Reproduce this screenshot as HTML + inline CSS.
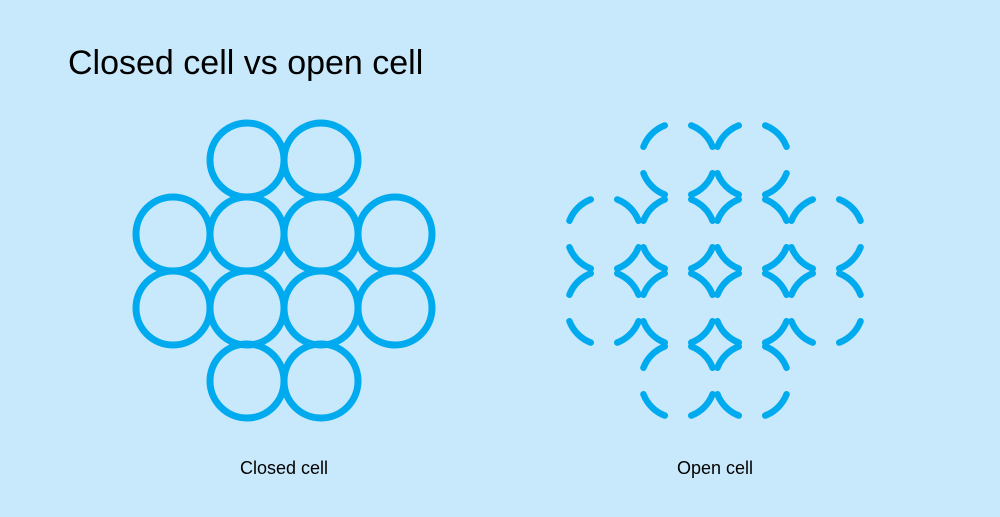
<!DOCTYPE html>
<html><head><style>
body{margin:0;width:1000px;height:512px;background:#c8e9fb;overflow:hidden;font-family:"Liberation Sans",sans-serif}
</style></head><body>
<svg width="1000" height="512" xmlns="http://www.w3.org/2000/svg">
<rect width="1000" height="512" fill="#c8e9fb"/>
<text x="68" y="74" font-size="34" fill="#000" font-family="Liberation Sans, sans-serif">Closed cell vs open cell</text>
<g fill="none" stroke="#00aaee" stroke-width="7">
<circle cx="247" cy="160" r="37"/><circle cx="321" cy="160" r="37"/>
<circle cx="173" cy="234" r="37"/><circle cx="247" cy="234" r="37"/><circle cx="321" cy="234" r="37"/><circle cx="395" cy="234" r="37"/>
<circle cx="173" cy="308" r="37"/><circle cx="247" cy="308" r="37"/><circle cx="321" cy="308" r="37"/><circle cx="395" cy="308" r="37"/>
<circle cx="247" cy="381" r="37"/><circle cx="321" cy="381" r="37"/>
</g>
<g fill="none" stroke="#00aaee" stroke-width="6.5" stroke-linecap="round" stroke-dasharray="48 42" stroke-dashoffset="-21">
<circle pathLength="360" cx="678" cy="160" r="37"/><circle pathLength="360" cx="752" cy="160" r="37"/>
<circle pathLength="360" cx="604" cy="234" r="37"/><circle pathLength="360" cx="678" cy="234" r="37"/><circle pathLength="360" cx="752" cy="234" r="37"/><circle pathLength="360" cx="826" cy="234" r="37"/>
<circle pathLength="360" cx="604" cy="308" r="37"/><circle pathLength="360" cx="678" cy="308" r="37"/><circle pathLength="360" cx="752" cy="308" r="37"/><circle pathLength="360" cx="826" cy="308" r="37"/>
<circle pathLength="360" cx="678" cy="381" r="37"/><circle pathLength="360" cx="752" cy="381" r="37"/>
</g>
<text x="284" y="474" font-size="18" text-anchor="middle" fill="#000">Closed cell</text>
<text x="715" y="474" font-size="18" text-anchor="middle" fill="#000">Open cell</text>
</svg>
</body></html>
